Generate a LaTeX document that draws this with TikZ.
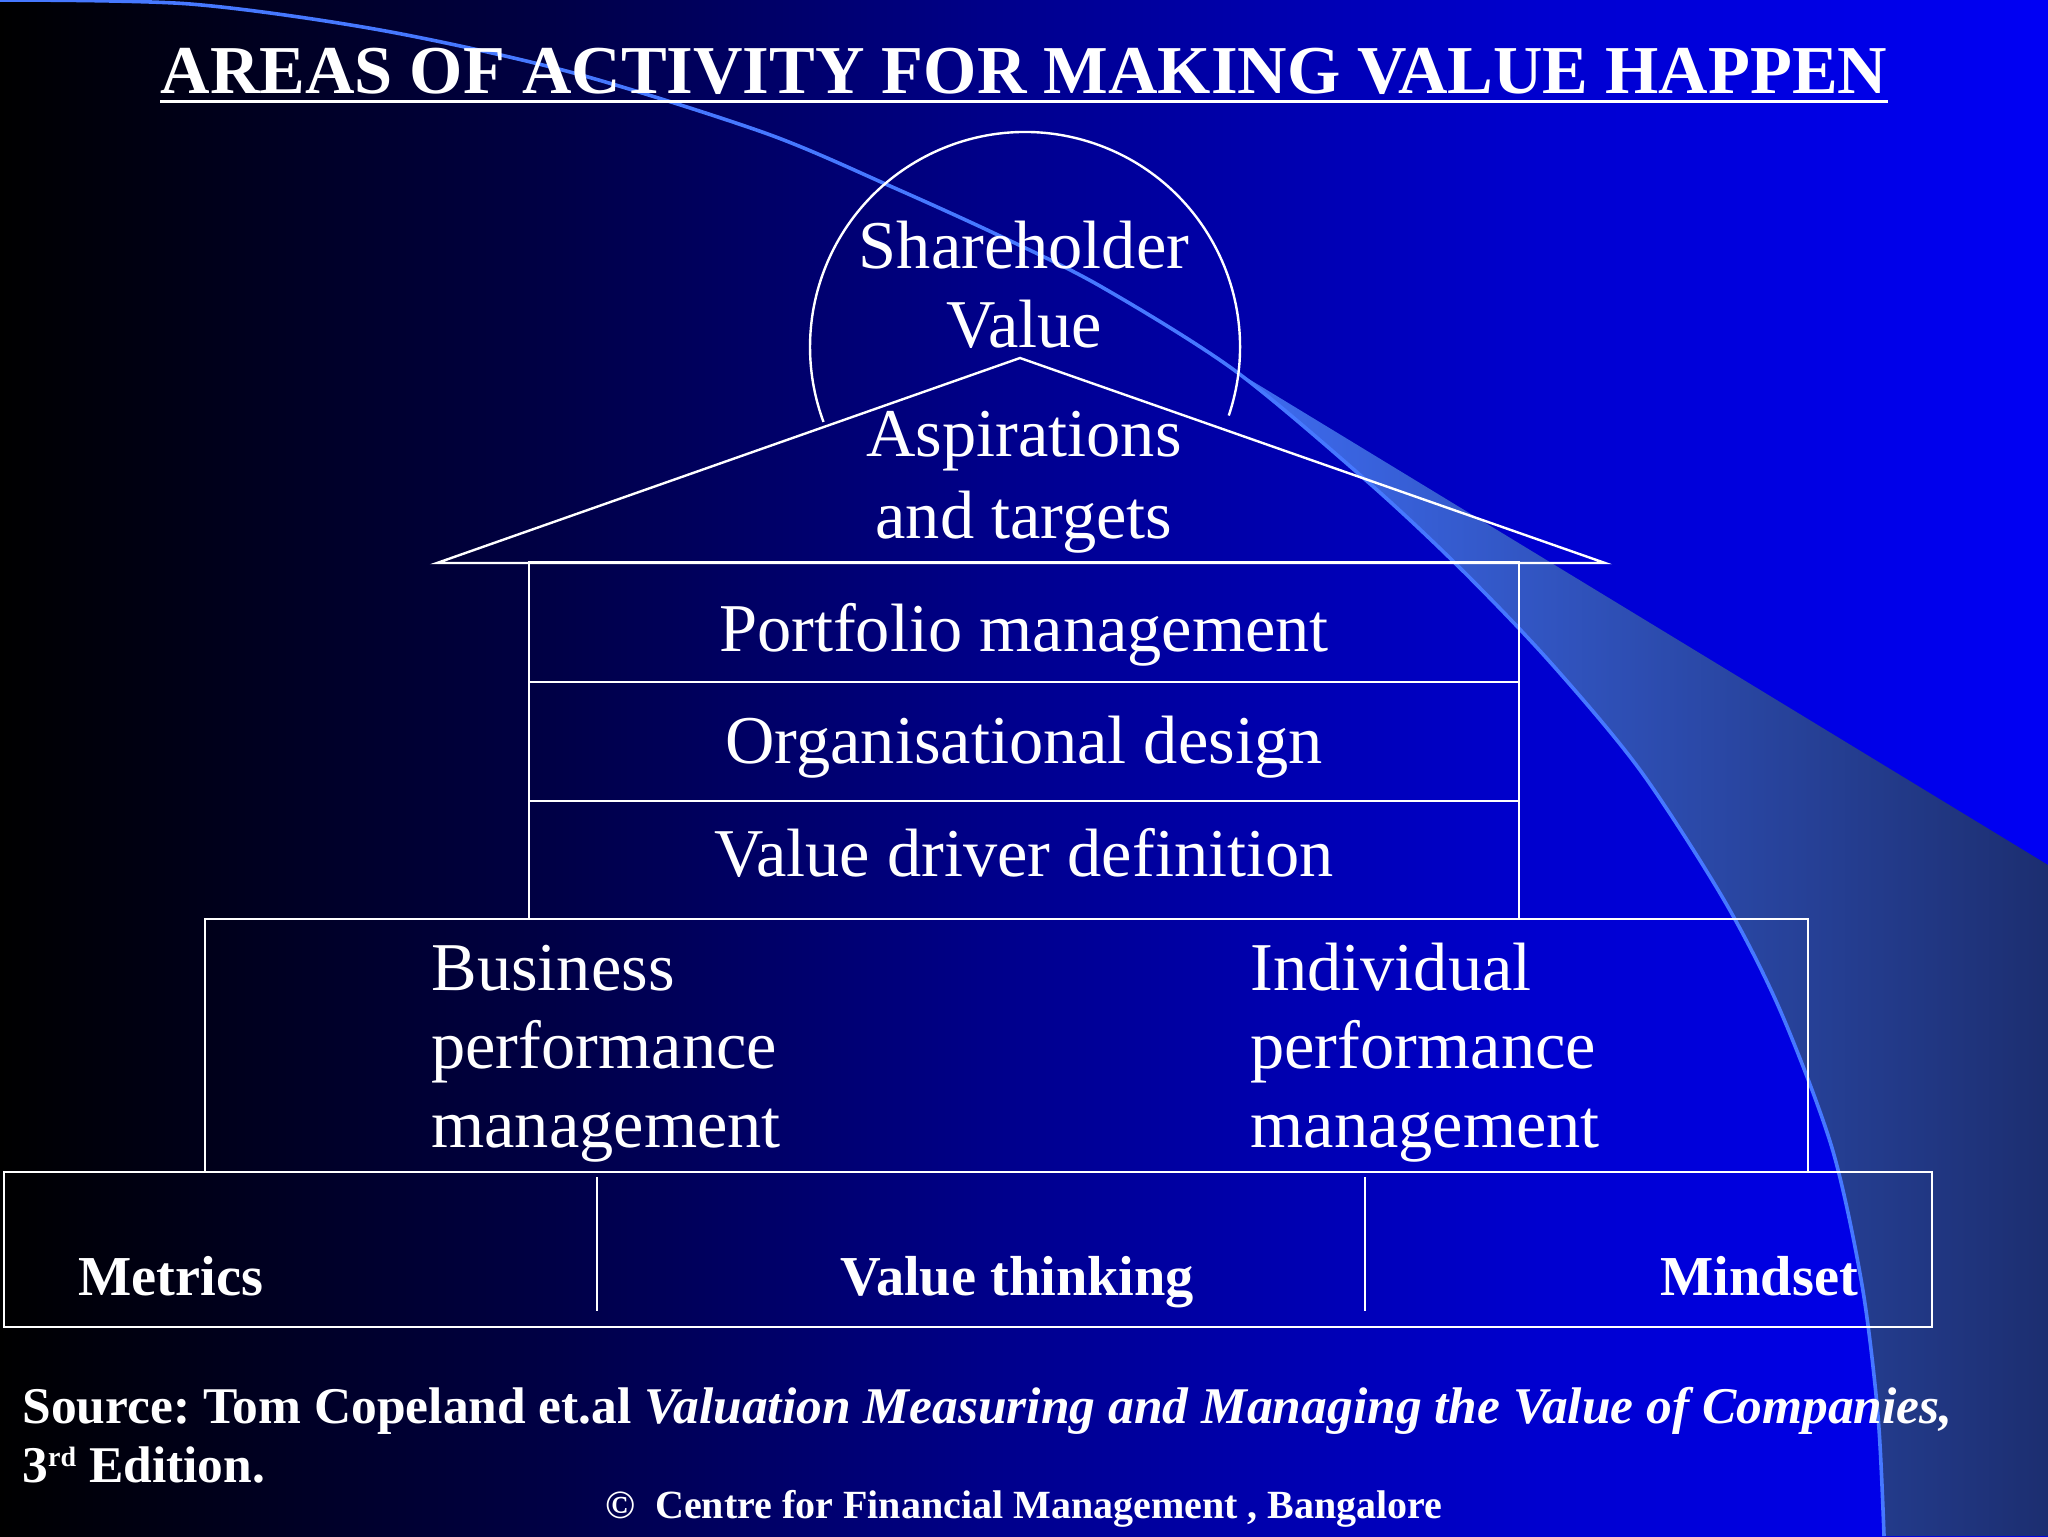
\documentclass[tikz,border=0pt]{standalone}
\usepackage{fontspec}
\setmainfont{Liberation Serif}
\frenchspacing
\pgfdeclarehorizontalshading{bgshade}{100bp}{rgb(0bp)=(0,0,0); rgb(25bp)=(0,0,0); rgb(37.5bp)=(0,0,0.25); rgb(50bp)=(0,0,0.56); rgb(62.5bp)=(0,0,0.81); rgb(75bp)=(0,0,0.96); rgb(100bp)=(0,0,0.96)}
\definecolor{swline}{RGB}{70,120,255}
\definecolor{bandL}{RGB}{62,108,242}
\definecolor{bandR}{RGB}{28,46,112}
\tikzset{
  wl/.style={draw=white, line width=1.2pt},
  lbl/.style={text=white, inner sep=0pt, font=\fontsize{34.2}{40}\selectfont},
  blbl/.style={text=white, inner sep=0pt, font=\bfseries\fontsize{28.2}{32}\selectfont},
}
\begin{document}
\begin{tikzpicture}[x=0.5pt,y=-0.5pt]
\useasboundingbox (0,0) rectangle (2048,1536);
% background
\shade[shading=bgshade] (0,0) rectangle (2048,1536);
% swoosh band
\shade[left color=bandL, right color=bandR] (1234,370) -- (2048,865) -- (2048,1536) -- (1884,1536)
  -- plot[smooth, tension=0.5] coordinates {(1878,1416) (1862,1285) (1832,1148) (1780,1010) (1724,900) (1640,770) (1550,662) (1460,568) (1368,482) (1234,370)} -- cycle;
% thin swoosh line
\draw[swline, line width=1.8pt] plot[smooth, tension=0.5] coordinates {(0,0) (190,4) (380,30) (570,72) (765,133) (890,186) (1000,236) (1100,286) (1234,370) (1368,482) (1460,568) (1550,662) (1640,770) (1724,900) (1780,1010) (1832,1148) (1862,1285) (1878,1416) (1884,1536)};

% title
\node[text=white, inner sep=0pt, anchor=base, font=\bfseries\fontsize{34.25}{40}\selectfont] (title) at (1024,94) {AREAS OF ACTIVITY FOR MAKING VALUE HAPPEN};
\draw[white, line width=1.6pt] ([yshift=-3.6pt]title.base west) -- ([yshift=-3.6pt]title.base east);

% circle arc (shareholder value)
\coordinate (cc) at (1025,347);
\draw[wl] (cc) ++(18.6:215) arc[start angle=18.6, end angle=-200.4, radius=215];

% roof
\coordinate (rl) at (437,563);
\coordinate (rt) at (1020,358);
\coordinate (rr) at (1605,563);
\draw[wl] (rl) -- (rt) -- (rr) -- cycle;

% stacked boxes
\draw[wl] (529,562) rectangle (1519,919);
\draw[wl] (529,682) -- (1519,682);
\draw[wl] (529,801) -- (1519,801);

% performance box
\draw[wl] (205,919) rectangle (1808,1172);
% base box
\draw[wl] (4,1172) rectangle (1932,1327);
\draw[wl] (597,1177) -- (597,1311);
\draw[wl] (1365,1177) -- (1365,1311);

% texts (base anchor of a multi-line node = last line's baseline)
\node[lbl, anchor=base, align=center, font=\fontsize{34.2}{39.5}\selectfont] (sv) at (1024,347) {Shareholder\\Value};
\node[lbl, anchor=base, align=center, font=\fontsize{34.2}{41}\selectfont] (asp) at (1024,538) {Aspirations\\and targets};
\node[lbl, anchor=base] (pm) at (1024,651) {Portfolio management};
\node[lbl, anchor=base] (od) at (1024,763) {Organisational design};
\node[lbl, anchor=base] (vd) at (1024,876) {Value driver definition};
\node[lbl, anchor=base west, align=left, font=\fontsize{34.2}{39.25}\selectfont] (bpm) at (431,1147) {Business\\performance\\management};
\node[lbl, anchor=base west, align=left, font=\fontsize{34.2}{39.25}\selectfont] (ipm) at (1250,1147) {Individual\\performance\\management};
\node[blbl, anchor=base west] (met) at (78,1295) {Metrics};
\node[blbl, anchor=base west] (vt) at (840,1295) {Value thinking};
\node[blbl, anchor=base west] (mind) at (1660,1295) {Mindset};

\node[text=white, inner sep=0pt, anchor=base west, align=left, font=\bfseries\fontsize{25.75}{29.5}\selectfont] (src) at (22,1482) {Source: Tom Copeland et.al \textit{Valuation Measuring and Managing the Value of Companies,}\\3\smash{\raisebox{8pt}{\fontsize{14}{14}\selectfont rd}} Edition.};
\node[text=white, inner sep=0pt, anchor=base, font=\bfseries\fontsize{20}{24}\selectfont] (copy) at (1024,1518) {©\ \ Centre for Financial Management , Bangalore};
\end{tikzpicture}
\end{document}
